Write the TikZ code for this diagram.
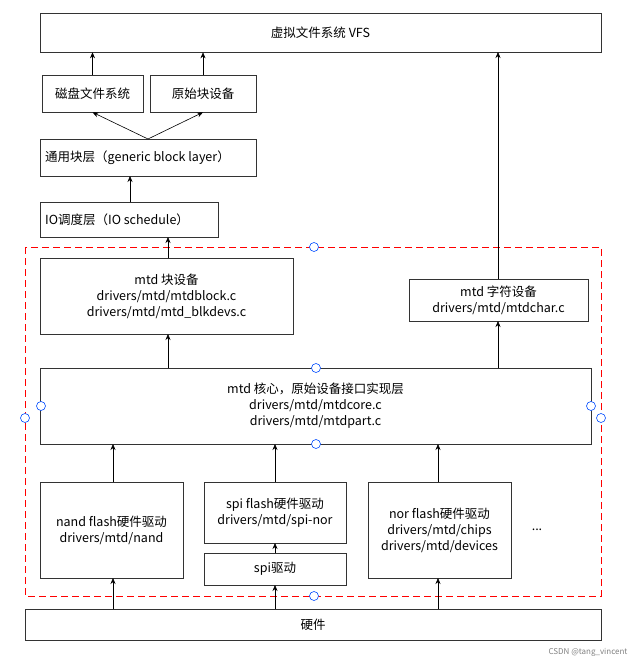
\documentclass[tikz,border=0pt]{standalone}
\usepackage{fontspec}
\setmainfont{Noto Sans CJK SC}
\usetikzlibrary{arrows.meta}
\begin{document}
\begin{tikzpicture}[x=1pt,y=-1pt,
 box/.style={draw=black!80,line width=0.6pt,fill=white,align=center,font=\fontsize{12.5}{16}\selectfont},
 arr/.style={-{Stealth[length=6pt,width=5pt]},line width=0.6pt},
 dot/.style={circle,draw=blue!70!cyan,fill=white,line width=0.6pt,minimum size=9pt,inner sep=0pt}]
\useasboundingbox (0,0) rectangle (643,663);
\def\bx#1#2#3#4#5#6{\node[box,minimum width=#4-#2,minimum height=#5-#3,inner sep=0pt] (#1) at ({(#2+#4)/2},{(#3+#5)/2}) {#6};}
\bx{vfs}{40}{13}{601}{52}{虚拟文件系统 VFS}
\bx{disk}{42}{75}{143}{112}{磁盘文件系统}
\bx{raw}{150}{75}{256}{112}{原始块设备}
\bx{gen}{40}{139}{256}{176}{}
\node[font=\fontsize{12.5}{16}\selectfont,anchor=west,inner sep=0pt] at (45,157.5) {通用块层（generic block layer）};
\bx{io}{40}{202}{218}{237}{}
\node[font=\fontsize{12.5}{16}\selectfont,anchor=west,inner sep=0pt] at (45,219.5) {IO调度层（IO schedule）};
\draw[red,dash pattern=on 7pt off 4pt,line width=0.9pt] (25,247) rectangle (601,596);
\bx{blk}{40}{258}{293}{334}{mtd 块设备\\drivers/mtd/mtdblock.c\\drivers/mtd/mtd\_blkdevs.c}
\bx{chr}{409}{279}{588}{321}{mtd 字符设备\\drivers/mtd/mtdchar.c}
\bx{core}{40}{368}{591}{444}{mtd 核心，原始设备接口实现层\\drivers/mtd/mtdcore.c\\drivers/mtd/mtdpart.c}
\bx{nand}{40}{482}{183}{578}{nand flash硬件驱动\\drivers/mtd/nand}
\bx{spi}{204}{482}{346}{543}{spi flash硬件驱动\\drivers/mtd/spi-nor}
\bx{spid}{204}{553}{346}{585}{spi驱动}
\bx{nor}{368}{482}{511}{578}{nor flash硬件驱动\\drivers/mtd/chips\\drivers/mtd/devices}
\node[font=\fontsize{12.5}{16}\selectfont] (dots) at (537,530) {...};
\bx{hw}{25}{609}{601}{640}{硬件}
\node[font=\fontsize{8}{10}\selectfont,text=gray] (wm) at (588,652) {CSDN @tang\_vincent};
\foreach \p in {(314,247),(25,418),(601,418),(314,596),(316,368),(316,444),(41,406),(591,406)} \node[dot] at \p {};
\draw[arr] (disk.north) -- (disk.north |- vfs.south);
\draw[arr] (raw.north) -- (raw.north |- vfs.south);
\coordinate (g) at (148,139);
\draw[arr] (g) -- (disk.south);
\draw[arr] (g) -- (raw.south);
\draw[arr] (130,202) -- (130,176);
\draw[arr] (168,258) -- (168,237);
\draw[arr] (168,368) -- (168,334);
\draw[arr] (498,368) -- (498,321);
\draw[arr] (498,279) -- (498,52);
\draw[arr] (113,482) -- (113,444);
\draw[arr] (275,482) -- (275,444);
\draw[arr] (438,482) -- (438,444);
\draw[arr] (275,553) -- (275,543);
\draw[arr] (113,609) -- (113,578);
\draw[arr] (275,609) -- (275,585);
\draw[arr] (438,609) -- (438,578);
\end{tikzpicture}
\end{document}
